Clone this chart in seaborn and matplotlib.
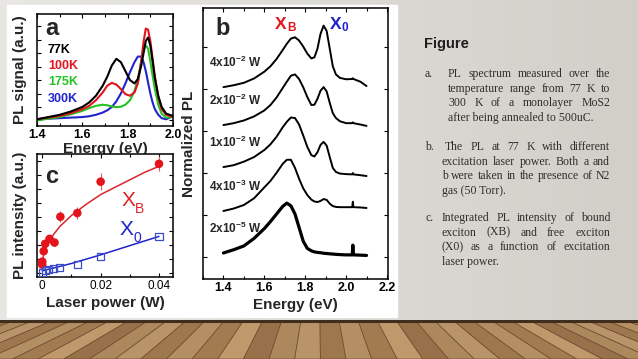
import numpy as np
import pandas as pd
import matplotlib
matplotlib.use("Agg")
import matplotlib.pyplot as plt
from matplotlib.patches import Rectangle, Polygon
from matplotlib.colors import LinearSegmentedColormap
from matplotlib.ticker import MultipleLocator, NullFormatter
import seaborn as sns

# Panel a: PL spectra at different temperatures (arbitrary units)
energy_a = [1.40, 1.45, 1.50, 1.55, 1.60, 1.63, 1.66, 1.69, 1.71, 1.73, 1.75, 1.77, 1.79, 1.81,
            1.83, 1.845, 1.86, 1.87, 1.88, 1.89, 1.90, 1.91, 1.92, 1.935, 1.95, 1.97, 2.00]
pl_77k = [0.06, 0.08, 0.10, 0.13, 0.17, 0.21, 0.27, 0.36, 0.44, 0.54, 0.60, 0.57, 0.49, 0.41,
          0.38, 0.42, 0.54, 0.65, 0.76, 0.79, 0.72, 0.58, 0.43, 0.27, 0.17, 0.11, 0.09]
pl_100k = [0.06, 0.075, 0.09, 0.115, 0.15, 0.18, 0.23, 0.30, 0.36, 0.385, 0.37, 0.33, 0.285, 0.27,
           0.30, 0.38, 0.58, 0.75, 0.87, 0.86, 0.76, 0.60, 0.44, 0.26, 0.15, 0.10, 0.08]
pl_175k = [0.05, 0.065, 0.08, 0.105, 0.135, 0.16, 0.18, 0.19, 0.185, 0.175, 0.168, 0.172, 0.19, 0.23,
           0.31, 0.42, 0.58, 0.68, 0.72, 0.69, 0.58, 0.45, 0.33, 0.19, 0.11, 0.075, 0.08]
pl_300k = [0.06, 0.065, 0.07, 0.075, 0.08, 0.087, 0.10, 0.12, 0.14, 0.17, 0.22, 0.29, 0.38, 0.48,
           0.57, 0.62, 0.62, 0.57, 0.49, 0.39, 0.29, 0.21, 0.15, 0.10, 0.07, 0.06, 0.09]
temps = ['77K', '100K', '175K', '300K']
temp_colors = ['black', '#e3141c', '#22c322', '#1f24cc']

# Panel b: normalized PL at 77 K for different laser powers (offset curves)
energy_b = [1.40, 1.45, 1.50, 1.55, 1.60, 1.63, 1.66, 1.69, 1.71, 1.73, 1.75, 1.77, 1.79, 1.81,
            1.83, 1.845, 1.86, 1.875, 1.89, 1.905, 1.92, 1.935, 1.95, 1.97, 2.00, 2.03, 2.033,
            2.036, 2.07, 2.10]
pl_4e2 = [0.708, 0.715, 0.724, 0.740, 0.765, 0.785, 0.812, 0.845, 0.868, 0.887, 0.892, 0.880, 0.858,
          0.832, 0.814, 0.818, 0.850, 0.905, 0.935, 0.915, 0.850, 0.785, 0.755, 0.742, 0.737, 0.738,
          0.741, 0.738, 0.728, 0.712]
pl_2e2 = [0.568, 0.575, 0.585, 0.600, 0.622, 0.642, 0.670, 0.705, 0.728, 0.750, 0.755, 0.738, 0.708,
          0.672, 0.642, 0.643, 0.665, 0.695, 0.708, 0.692, 0.650, 0.612, 0.594, 0.582, 0.575, 0.575,
          0.578, 0.575, 0.570, 0.565]
pl_1e2 = [0.413, 0.420, 0.433, 0.450, 0.476, 0.497, 0.525, 0.560, 0.580, 0.596, 0.594, 0.570, 0.530,
          0.488, 0.457, 0.452, 0.468, 0.495, 0.506, 0.492, 0.450, 0.410, 0.395, 0.389, 0.387, 0.386,
          0.391, 0.386, 0.383, 0.380]
pl_4e3 = [0.251, 0.260, 0.273, 0.298, 0.338, 0.362, 0.392, 0.425, 0.440, 0.440, 0.410, 0.370, 0.335,
          0.310, 0.293, 0.286, 0.284, 0.288, 0.295, 0.292, 0.278, 0.269, 0.266, 0.265, 0.265, 0.265,
          0.285, 0.265, 0.264, 0.262]
pl_2e5 = [0.096, 0.108, 0.122, 0.150, 0.186, 0.212, 0.240, 0.268, 0.280, 0.270, 0.240, 0.190, 0.140,
          0.113, 0.104, 0.100, 0.098, 0.097, 0.095, 0.094, 0.093, 0.092, 0.091, 0.090, 0.089, 0.089,
          0.125, 0.089, 0.088, 0.087]
power_labels = ['4x10', '2x10', '1x10', '4x10', '2x10']
power_exps = ['-2', '-2', '-2', '-3', '-5']

# Panel c: integrated PL intensity vs laser power
power_xb = [0.0, 0.0, 0.0005, 0.001, 0.0025, 0.0042, 0.0062, 0.012, 0.02, 0.04]
int_xb = [0.10, 0.125, 0.21, 0.27, 0.31, 0.28, 0.49, 0.52, 0.775, 0.92]
err_xb = [0.02, 0.02, 0.02, 0.03, 0.03, 0.03, 0.045, 0.05, 0.07, 0.06]
fit_power_xb = [0.0, 0.0005, 0.001, 0.002, 0.004, 0.006, 0.01, 0.015, 0.02, 0.025, 0.03, 0.035, 0.04]
fit_xb = [0.10, 0.19, 0.23, 0.28, 0.35, 0.41, 0.50, 0.59, 0.67, 0.73, 0.79, 0.85, 0.90]
power_x0 = [0.0002, 0.001, 0.002, 0.004, 0.006, 0.012, 0.02, 0.04]
int_x0 = [0.04, 0.05, 0.06, 0.07, 0.08, 0.10, 0.165, 0.33]
fit_power_x0 = [0.0, 0.01, 0.02, 0.03, 0.04]
fit_x0 = [0.05, 0.11, 0.18, 0.255, 0.33]

# Caption on the right of the slide
caption_a = ["PL spectrum measured over the", "temperature range from 77 K to",
             "300 K of a monolayer MoS2", "after being annealed to 500uC."]
caption_b = ["The PL at 77 K with different", "excitation laser power. Both a and",
             "b were taken in the presence of N2", "gas (50 Torr)."]
caption_c = ["Integrated PL intensity of bound", "exciton (XB) and free exciton",
             "(X0) as a function of excitation", "laser power."]

sns.set_theme(style="ticks")
plt.rcParams['font.family'] = ['Liberation Sans', 'DejaVu Sans']
plt.rcParams['mathtext.fontset'] = 'custom'
plt.rcParams['mathtext.rm'] = 'Liberation Sans:bold'
plt.rcParams['mathtext.bf'] = 'Liberation Sans:bold'
plt.rcParams['axes.linewidth'] = 1.1
plt.rcParams['axes.edgecolor'] = 'black'

W, H = 638, 359
fig = plt.figure(figsize=(W / 100, H / 100), dpi=100)


def box(x0, y0, x1, y1):
    # pixel box (top-left origin) -> figure fraction rect
    return [x0 / W, 1 - y1 / H, (x1 - x0) / W, (y1 - y0) / H]


# slide background: grey gradient, white figure area, wooden floor
bg = fig.add_axes([0, 0, 1, 1])
grey = LinearSegmentedColormap.from_list('slide', ['#e9e7e3', '#d2cfc9'])
bg.imshow(np.linspace(0, 1, 256)[None, :], aspect='auto', cmap=grey, extent=[0, W, H, 0])
bg.add_patch(Rectangle((7, 5), 390, 312, color='white'))
bg.set_xlim(0, W)
bg.set_ylim(H, 0)
bg.axis('off')

floor = fig.add_axes(box(0, 320, W, H))
floor.set_xlim(0, W)
floor.set_ylim(39, 0)
floor.add_patch(Rectangle((0, 0), W, 39, color='#a8835a'))
plank_shades = ['#b48f64', '#a27b51', '#bf996c', '#98714a', '#ad885d', '#b9936a', '#9e774f']
for i, xt in enumerate(range(-60, 700, 19)):
    xb = 319 + (xt - 319) * 1.35
    xt2 = xt + 19
    xb2 = 319 + (xt2 - 319) * 1.35
    floor.add_patch(Polygon([(xt, 0), (xt2, 0), (xb2, 39), (xb, 39)],
                            facecolor=plank_shades[i % len(plank_shades)],
                            edgecolor='#6b4d31', lw=0.5))
floor.axhline(0.8, color='#3f2d1d', lw=2.2)
floor.axis('off')


def style_axes(ax):
    ax.tick_params(which='both', direction='in', top=True, right=True,
                   width=0.8, colors='black', pad=2)
    ax.tick_params(which='major', length=3)
    ax.tick_params(which='minor', length=2)
    for s in ax.spines.values():
        s.set_linewidth(1.1)
    ax.set_facecolor('white')


# ---- panel a
ax_a = fig.add_axes(box(37, 14, 173, 126))
df_a = pd.DataFrame({'energy': energy_a * 4,
                     'signal': pl_77k + pl_100k + pl_175k + pl_300k,
                     'temp': np.repeat(temps, len(energy_a))})
sns.lineplot(data=df_a, x='energy', y='signal', hue='temp', hue_order=temps[::-1],
             palette=dict(zip(temps, temp_colors)), lw=1.5, legend=False, ax=ax_a)
ax_a.set_xlim(1.4, 2.0)
ax_a.set_ylim(0, 1)
ax_a.set_xticks([1.4, 1.6, 1.8, 2.0])
ax_a.xaxis.set_minor_locator(MultipleLocator(0.1))
ax_a.set_yticks(np.arange(0.05, 1, 0.12))
ax_a.yaxis.set_major_formatter(NullFormatter())
style_axes(ax_a)
ax_a.set_xticklabels(['1.4', '1.6', '1.8', '2.0'], fontsize=9, fontweight='bold')
ax_a.set_xlabel('Energy (eV)', fontsize=11, fontweight='bold', labelpad=1)
ax_a.set_ylabel('PL signal (a.u.)', fontsize=11, fontweight='bold', labelpad=5)
ax_a.text(0.06, 0.87, 'a', transform=ax_a.transAxes, fontsize=17, fontweight='bold', va='center')
for i, (t, c) in enumerate(zip(temps, temp_colors)):
    ax_a.text(0.08, 0.68 - i * 0.145, t, transform=ax_a.transAxes, color=c,
              fontsize=9, fontweight='bold', va='center')

# ---- panel c
ax_c = fig.add_axes(box(37, 154, 173, 277))
ax_c.errorbar(power_xb, int_xb, yerr=err_xb, fmt='none', ecolor='#e35a5a', elinewidth=0.8)
sns.lineplot(x=fit_power_xb, y=fit_xb, color='#d8262c', lw=1.1, ax=ax_c)
sns.lineplot(x=fit_power_x0, y=fit_x0, color='#1f24cc', lw=1.1, ax=ax_c)
sns.scatterplot(x=power_xb, y=int_xb, color='#e3141c', s=38, edgecolor='none', ax=ax_c, zorder=3)
sns.scatterplot(x=power_x0, y=int_x0, marker='s', s=26, facecolor='none',
                edgecolor='#3a4fc8', linewidth=0.9, ax=ax_c, zorder=3)
ax_c.set_xlim(-0.0018, 0.0448)
ax_c.set_ylim(0, 1)
ax_c.set_xticks([0, 0.02, 0.04])
ax_c.xaxis.set_minor_locator(MultipleLocator(0.01))
ax_c.set_yticks(np.arange(0.03, 1, 0.114))
ax_c.yaxis.set_major_formatter(NullFormatter())
style_axes(ax_c)
ax_c.set_xticklabels(['0', '0.02', '0.04'], fontsize=8.5)
ax_c.set_xlabel('Laser power (W)', fontsize=11, fontweight='bold', labelpad=3)
ax_c.set_ylabel('PL intensity (a.u.)', fontsize=11, fontweight='bold', labelpad=5)
ax_c.text(0.06, 0.82, 'c', transform=ax_c.transAxes, fontsize=17, fontweight='bold', va='center')
ax_c.text(0.62, 0.62, 'X', transform=ax_c.transAxes, fontsize=15, color='#d8262c', va='center')
ax_c.text(0.72, 0.55, 'B', transform=ax_c.transAxes, fontsize=10, color='#d8262c', va='center')
ax_c.text(0.61, 0.39, 'X', transform=ax_c.transAxes, fontsize=15, color='#1f24cc', va='center')
ax_c.text(0.71, 0.32, '0', transform=ax_c.transAxes, fontsize=10, color='#1f24cc', va='center')

# ---- panel b
ax_b = fig.add_axes(box(203, 8, 388, 279))
curves_b = [pl_4e2, pl_2e2, pl_1e2, pl_4e3, pl_2e5]
for i, curve in enumerate(curves_b):
    sns.lineplot(x=energy_b, y=curve, color='black', lw=2.3 if i == 4 else 1.4, ax=ax_b)
    ax_b.text(0.03, curve[0] + 0.09, power_labels[i] + r'$^{' + power_exps[i] + '}$ W',
              transform=ax_b.transAxes, fontsize=8.5, fontweight='bold', va='center')
ax_b.set_xlim(1.3, 2.205)
ax_b.set_ylim(0, 1)
ax_b.set_xticks([1.4, 1.6, 1.8, 2.0, 2.2])
ax_b.xaxis.set_minor_locator(MultipleLocator(0.1))
ax_b.set_yticks(np.arange(0.08, 1, 0.155))
ax_b.yaxis.set_major_formatter(NullFormatter())
style_axes(ax_b)
ax_b.set_xticklabels(['1.4', '1.6', '1.8', '2.0', '2.2'], fontsize=9, fontweight='bold')
ax_b.set_xlabel('Energy (eV)', fontsize=11, fontweight='bold', labelpad=3)
ax_b.set_ylabel('Normalized PL', fontsize=11, fontweight='bold', labelpad=3)
ax_b.text(0.07, 0.925, 'b', transform=ax_b.transAxes, fontsize=17, fontweight='bold', va='center')
ax_b.text(0.39, 0.94, 'X', transform=ax_b.transAxes, fontsize=12.5, fontweight='bold',
          color='#e3141c', va='center')
ax_b.text(0.455, 0.925, 'B', transform=ax_b.transAxes, fontsize=8.5, fontweight='bold',
          color='#e3141c', va='center')
ax_b.text(0.685, 0.94, 'X', transform=ax_b.transAxes, fontsize=12.5, fontweight='bold',
          color='#1f24cc', va='center')
ax_b.text(0.75, 0.925, '0', transform=ax_b.transAxes, fontsize=8.5, fontweight='bold',
          color='#1f24cc', va='center')

# ---- caption text, justified like on the slide
renderer = fig.canvas.get_renderer()
txt_color = '#2e2e2e'
serif = ['Liberation Serif', 'DejaVu Serif']


def put_line(line, x0, x1, y, justify):
    words = line.split(' ')
    if not justify:
        bg.text(x0, y, line, family=serif, fontsize=8.5, color=txt_color, va='center')
        return
    arts = [bg.text(0, y, w, family=serif, fontsize=8.5, color=txt_color, va='center')
            for w in words]
    widths = [a.get_window_extent(renderer).width for a in arts]
    gap = (x1 - x0 - sum(widths)) / (len(words) - 1)
    x = x0
    for a, w in zip(arts, widths):
        a.set_x(x)
        x += w + gap


bg.text(424, 44, 'Figure', fontsize=10.5, fontweight='bold', color='#1e1e1e', va='center')
blocks = [('a.', caption_a, 448, 448, 74), ('b.', caption_b, 445, 442, 147),
          ('c.', caption_c, 442, 442, 218)]
for mark, lines, xfirst, xrest, ytop in blocks:
    bg.text(425, ytop, mark, family=serif, fontsize=8.5, color=txt_color, va='center')
    for j, line in enumerate(lines):
        put_line(line, xfirst if j == 0 else xrest, 610, ytop + j * 14.6, j < len(lines) - 1)

fig.savefig('out.png', dpi=100)
